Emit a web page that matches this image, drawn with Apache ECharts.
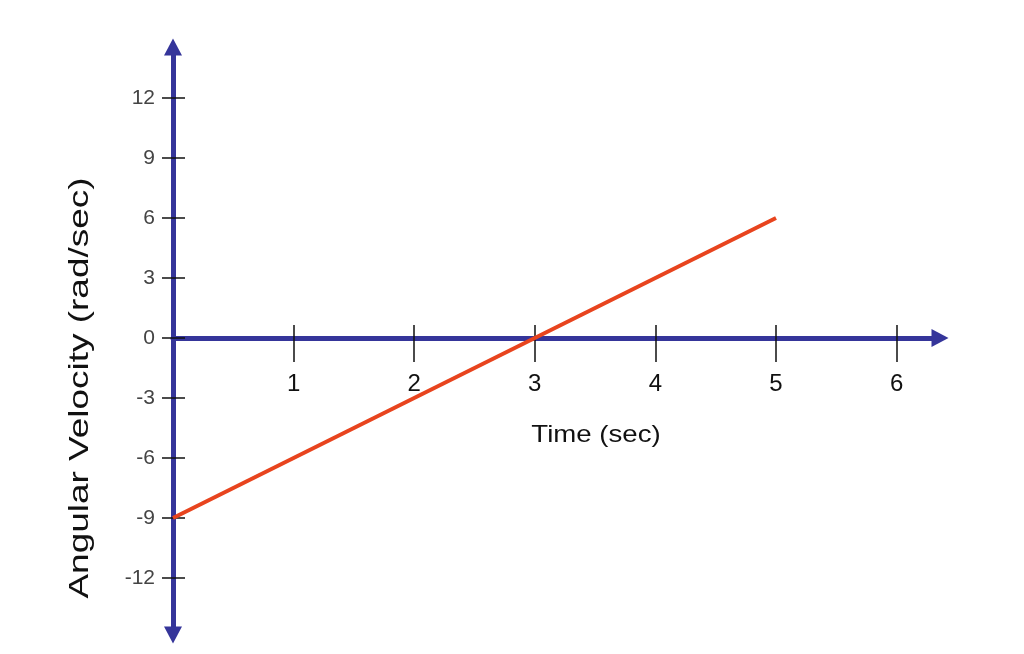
<!DOCTYPE html>
<html>
<head>
<meta charset="utf-8">
<script src="https://cdn.jsdelivr.net/npm/echarts@6/dist/echarts.min.js"></script>
<style>
  html, body { margin: 0; padding: 0; background: #fff; }
  #chart { width: 1024px; height: 654px; }
</style>
</head>
<body>
<div id="chart"></div>
<script>
// values
var timeTicks = [1, 2, 3, 4, 5, 6];
var velocityTicks = [-12, -9, -6, -3, 0, 3, 6, 9, 12];
var times = [0, 5];
var velocities = [-9, 6];

var axisBlue = '#35359a';
var lineRed = '#e8441e';

var xMin = 0, xMax = 6.36;
var yMin = -14.85, yMax = 14.55;

// grid box: 20px per rad/sec, zero line at y=338
var gridTop = 47, gridBottom = 19;
var zeroFromBottom = 654 - gridBottom - 338;  // 297
var zeroFromTop = 338 - gridTop;               // 291

var linePoints = times.map(function (t, i) { return [t, velocities[i]]; });

var chart = echarts.init(document.getElementById('chart'));

var option = {
  backgroundColor: '#fff',
  animation: false,
  grid: { left: 173, right: 84, top: gridTop, bottom: gridBottom, containLabel: false, outerBoundsMode: 'none' },
  xAxis: [{
    type: 'value', min: xMin, max: xMax, position: 'bottom', offset: -zeroFromBottom,
    axisLine: { show: true, onZero: false, symbol: ['none', 'triangle'], symbolSize: [18, 17],
      lineStyle: { color: axisBlue, width: 5 } },
    axisTick: { show: true, length: 24, customValues: timeTicks, lineStyle: { color: '#111', width: 1.5 } },
    axisLabel: { show: true, customValues: timeTicks, margin: 34, color: '#111',
      fontFamily: 'Liberation Sans, Arial', fontSize: 24 },
    splitLine: { show: false }
  }, {
    // upper half of the crossing ticks
    type: 'value', min: xMin, max: xMax, position: 'top', offset: -zeroFromTop,
    axisLine: { show: false, onZero: false },
    axisTick: { show: true, length: 13, customValues: timeTicks, lineStyle: { color: '#111', width: 1.5 } },
    axisLabel: { show: false },
    splitLine: { show: false }
  }],
  yAxis: [{
    type: 'value', min: yMin, max: yMax, position: 'left',
    axisLine: { show: true, onZero: false, symbol: ['triangle', 'triangle'], symbolSize: [18, 17],
      lineStyle: { color: axisBlue, width: 5 } },
    axisTick: { show: true, length: 11, customValues: velocityTicks, lineStyle: { color: '#111', width: 1.5 } },
    axisLabel: { show: true, customValues: velocityTicks, margin: 18, color: '#444',
      fontFamily: 'Liberation Sans, Arial', fontSize: 21 },
    splitLine: { show: false }
  }, {
    type: 'value', min: yMin, max: yMax, position: 'left',
    axisLine: { show: false, onZero: false },
    axisTick: { show: true, inside: true, length: 12, customValues: velocityTicks, lineStyle: { color: '#111', width: 1.5 } },
    axisLabel: { show: false },
    splitLine: { show: false }
  }],
  graphic: [{
    type: 'text', x: 596, y: 435, scaleX: 1.15,
    style: { text: 'Time (sec)', fill: '#111', font: '24px "Liberation Sans", Arial',
      align: 'center', verticalAlign: 'middle' }
  }, {
    type: 'text', x: 80, y: 388, rotation: Math.PI / 2, scaleX: 1.32,
    style: { text: 'Angular Velocity (rad/sec)', fill: '#111', font: '28px "Liberation Sans", Arial',
      align: 'center', verticalAlign: 'middle' }
  }],
  series: [{
    type: 'line',
    xAxisIndex: 0, yAxisIndex: 0,
    data: linePoints,
    showSymbol: false,
    lineStyle: { color: lineRed, width: 4 },
    z: 5
  }]
};

chart.setOption(option);
</script>
</body>
</html>
